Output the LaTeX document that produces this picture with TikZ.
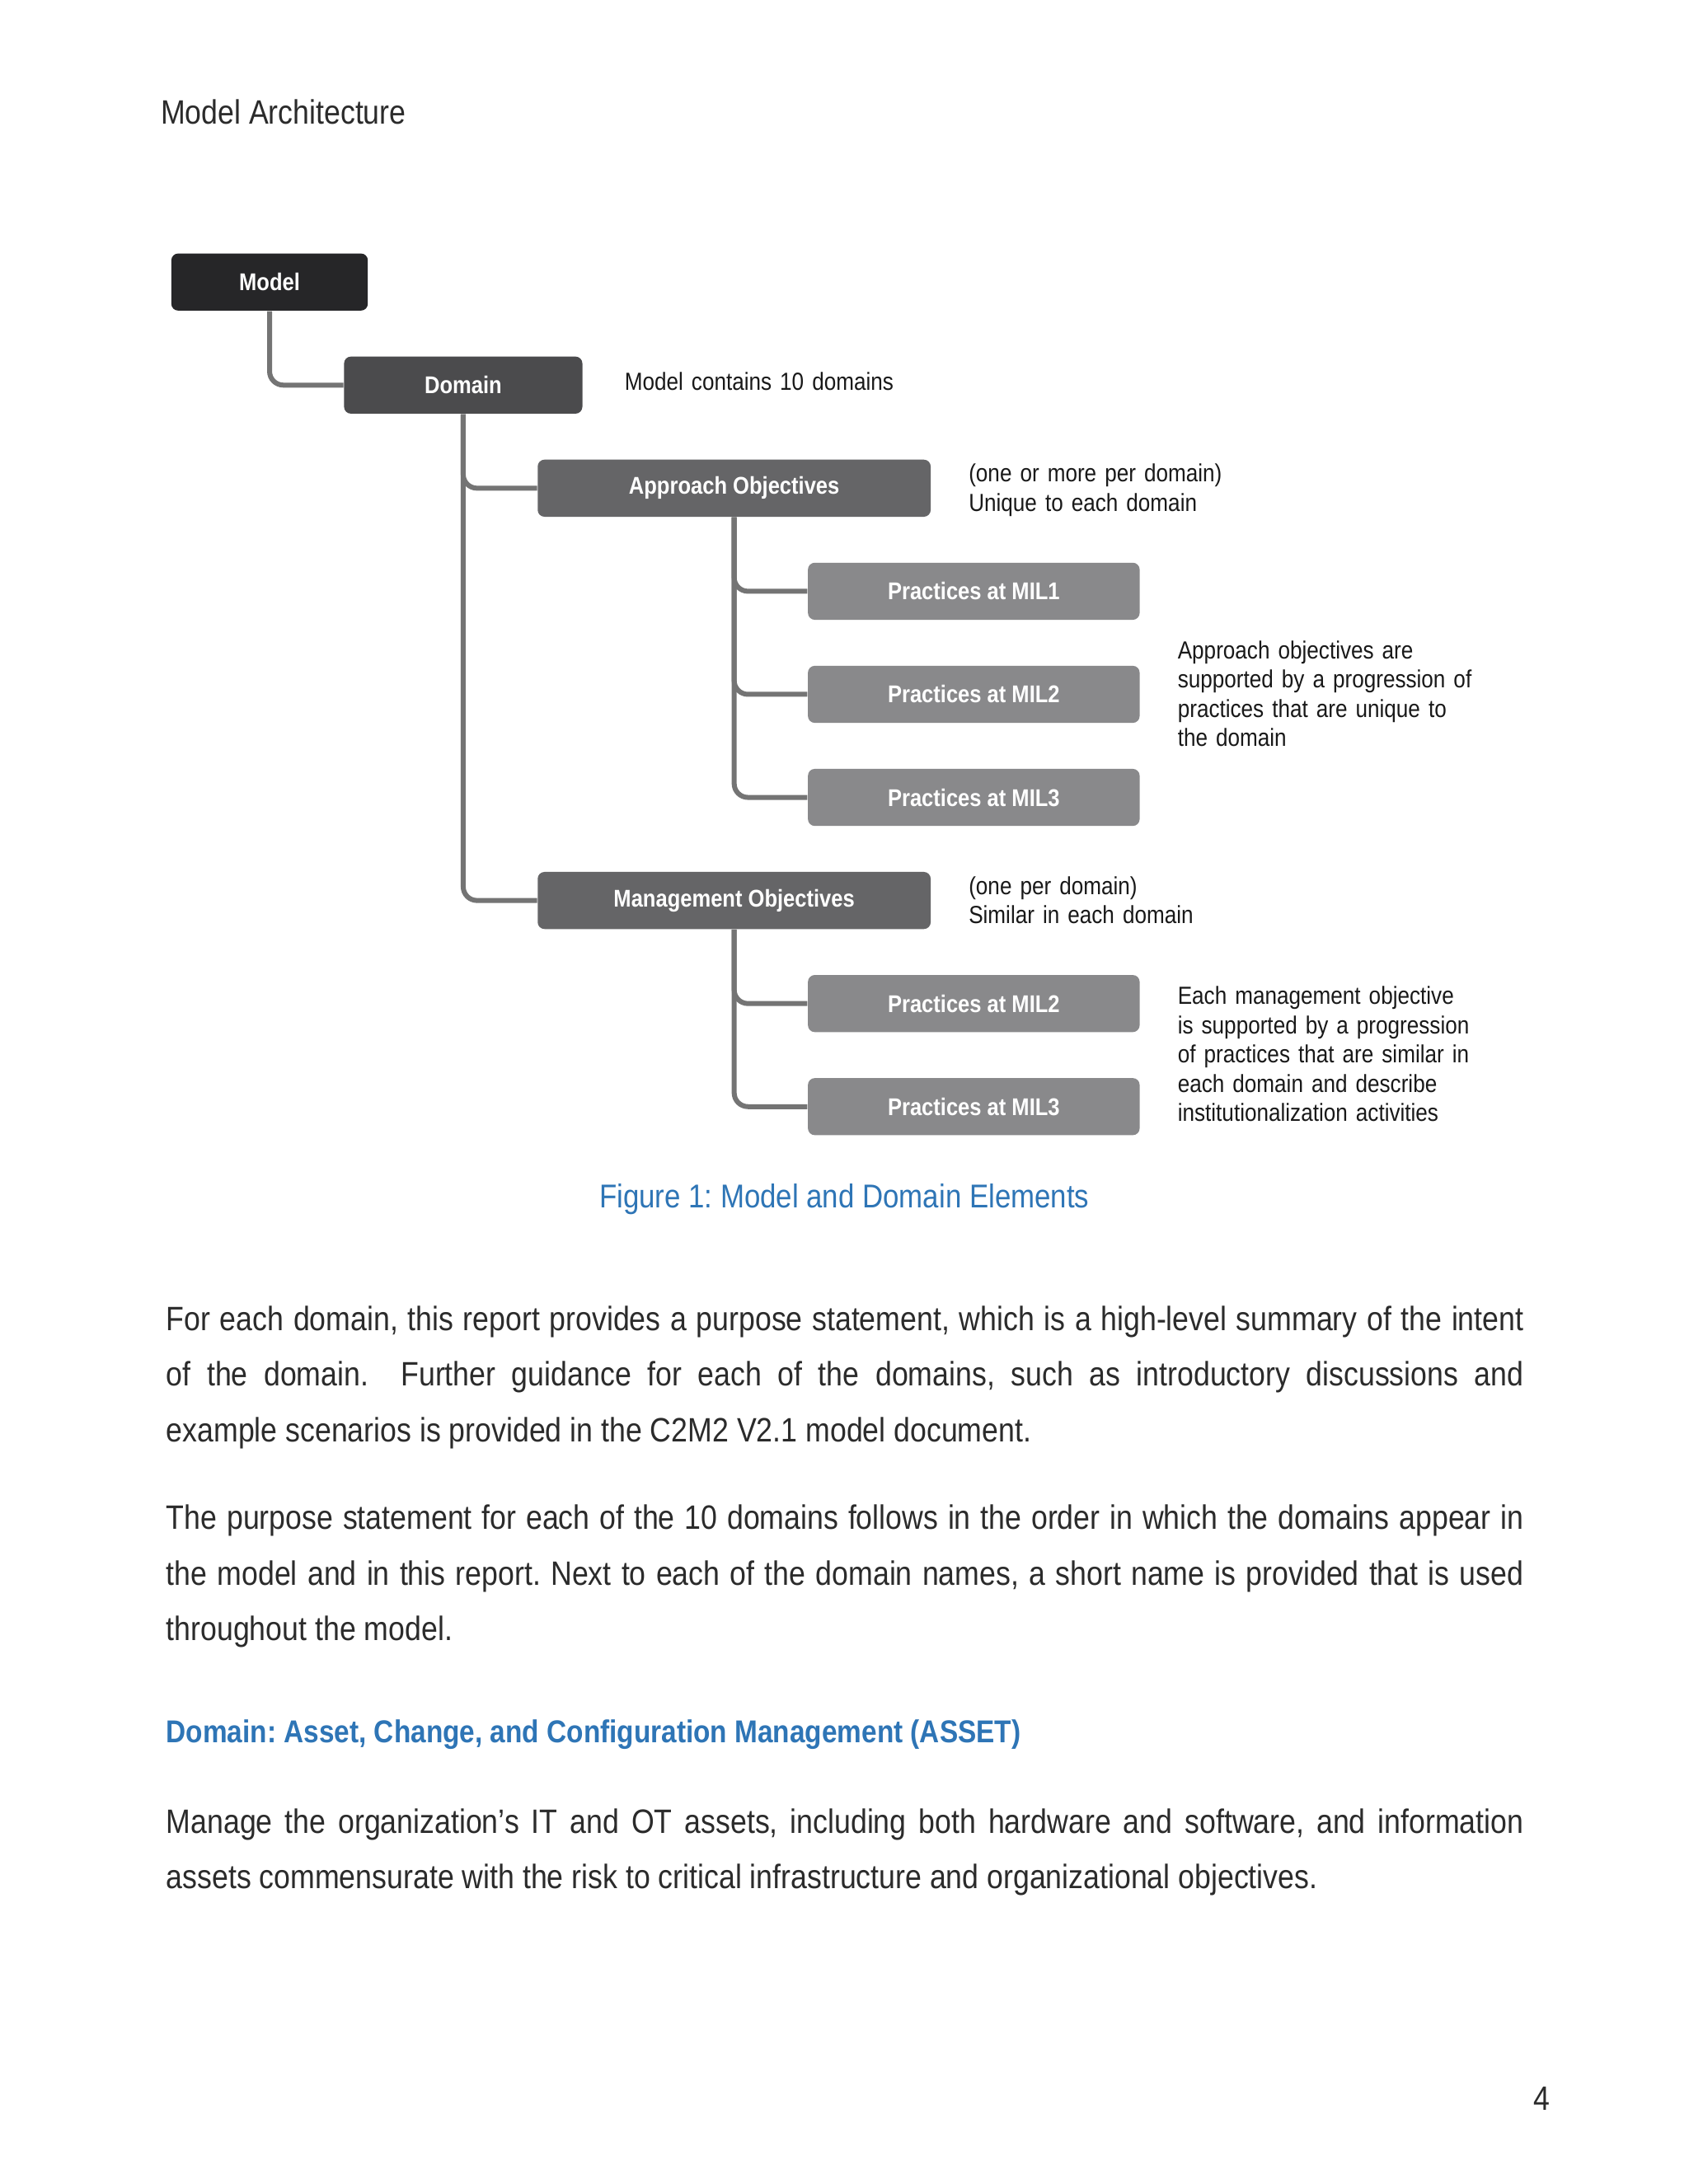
\documentclass[tikz,border=0pt]{standalone}
\usepackage{fontspec}
\setmainfont{Liberation Sans}[FakeStretch=0.87]
\usetikzlibrary{positioning}
\frenchspacing
\definecolor{boxModel}{HTML}{262628}
\definecolor{boxDomain}{HTML}{4B4B4D}
\definecolor{boxObj}{HTML}{656567}
\definecolor{boxPrac}{HTML}{89898B}
\definecolor{linkGray}{HTML}{747474}
\definecolor{capBlue}{HTML}{2E75B6}
\definecolor{bodyText}{HTML}{2B2B2B}

\begin{document}
\begin{tikzpicture}[x=0.017814cm, y=-0.017814cm,
    blk/.style={rectangle, rounded corners=2.5pt, minimum height=0.730cm, inner sep=0pt,
                text=white, font=\fontsize{8.8}{10}\selectfont\bfseries},
    lnk/.style={draw=linkGray, line width=1.8pt, rounded corners=5pt},
    note/.style={anchor=base west, inner sep=0pt, text width=5cm, align=left,
                 text=black!90, font=\fontsize{9}{10.65}\selectfont},
    para/.style={anchor=base west, inner sep=0pt, text width=17.351cm, align=justify,
                 text=bodyText, font=\fontsize{12.3}{20.27}\selectfont},
  ]
    \fill[white] (0,0) rectangle (1212,1568);
    \useasboundingbox (0,0) rectangle (1212,1568);

    % Header
    \node[anchor=base west, inner sep=0pt, text=bodyText, font=\fontsize{12.3}{14}\selectfont] (title) at (115,89) {Model Architecture};

    % Boxes
    \node[blk, fill=boxModel, minimum width=2.512cm] (model) at (193.5,202.5) {Model};
    \node[blk, fill=boxDomain, minimum width=3.046cm] (domain) at (332.5,276.5) {Domain};
    \node[blk, fill=boxObj, minimum width=5.024cm] (appr) at (527,350.5) {Approach Objectives};
    \node[blk, fill=boxPrac, minimum width=4.240cm] (a1) at (699,424.5) {Practices at MIL1};
    \node[blk, fill=boxPrac, minimum width=4.240cm] (a2) at (699,498.5) {Practices at MIL2};
    \node[blk, fill=boxPrac, minimum width=4.240cm] (a3) at (699,572.5) {Practices at MIL3};
    \node[blk, fill=boxObj, minimum width=5.024cm] (mgmt) at (527,646.5) {Management Objectives};
    \node[blk, fill=boxPrac, minimum width=4.240cm] (m2) at (699,720.5) {Practices at MIL2};
    \node[blk, fill=boxPrac, minimum width=4.240cm] (m3) at (699,794.5) {Practices at MIL3};

    % Connectors
    \draw[lnk] (model.south) |- (domain.west);
    \draw[lnk] (domain.south) |- (appr.west);
    \draw[lnk] (domain.south) |- (mgmt.west);
    \draw[lnk] (appr.south) |- (a1.west);
    \draw[lnk] (appr.south) |- (a2.west);
    \draw[lnk] (appr.south) |- (a3.west);
    \draw[lnk] (mgmt.south) |- (m2.west);
    \draw[lnk] (mgmt.south) |- (m3.west);

    % Notes
    \node[note] (n0) at (448,280) {Model contains 10 domains};
    \node[note] (n1) at (695,346) {(one or more per domain)\\Unique to each domain};
    \node[note] (n2) at (845,473) {Approach objectives are\\supported by a progression of\\practices that are unique to\\the domain};
    \node[note] (n3) at (695,642) {(one per domain)\\Similar in each domain};
    \node[note] (n4) at (845,721) {Each management objective\\is supported by a progression\\of practices that are similar in\\each domain and describe\\institutionalization activities};

    % Caption
    \node[anchor=base, inner sep=0pt, text=capBlue, font=\fontsize{12}{14}\selectfont] (caption) at (606,867) {Figure 1: Model and Domain Elements};

    % Body
    \node[para] (p1) at (119,955) {For each domain, this report provides a purpose statement, which is a high-level summary of the intent\linebreak of the domain.\ \ Further guidance for each of the domains, such as introductory discussions and\linebreak example scenarios is provided in the C2M2 V2.1 model document.};
    \node[para] (p2) at (119,1098) {The purpose statement for each of the 10 domains follows in the order in which the domains appear in\linebreak the model and in this report. Next to each of the domain names, a short name is provided that is used\linebreak throughout the model.};
    \node[anchor=base west, inner sep=0pt, text=capBlue, font=\fontsize{11.5}{14}\selectfont\bfseries] (head) at (119,1251) {Domain: Asset, Change, and Configuration Management (ASSET)};
    \node[para] (p3) at (119,1316) {Manage the organization’s IT and OT assets, including both hardware and software, and information\linebreak assets commensurate with the risk to critical infrastructure and organizational objectives.};

    % Page number
    \node[anchor=base, inner sep=0pt, text=bodyText, font=\fontsize{12.3}{14}\selectfont] (pg) at (1107,1515) {4};
  \end{tikzpicture}
\end{document}
